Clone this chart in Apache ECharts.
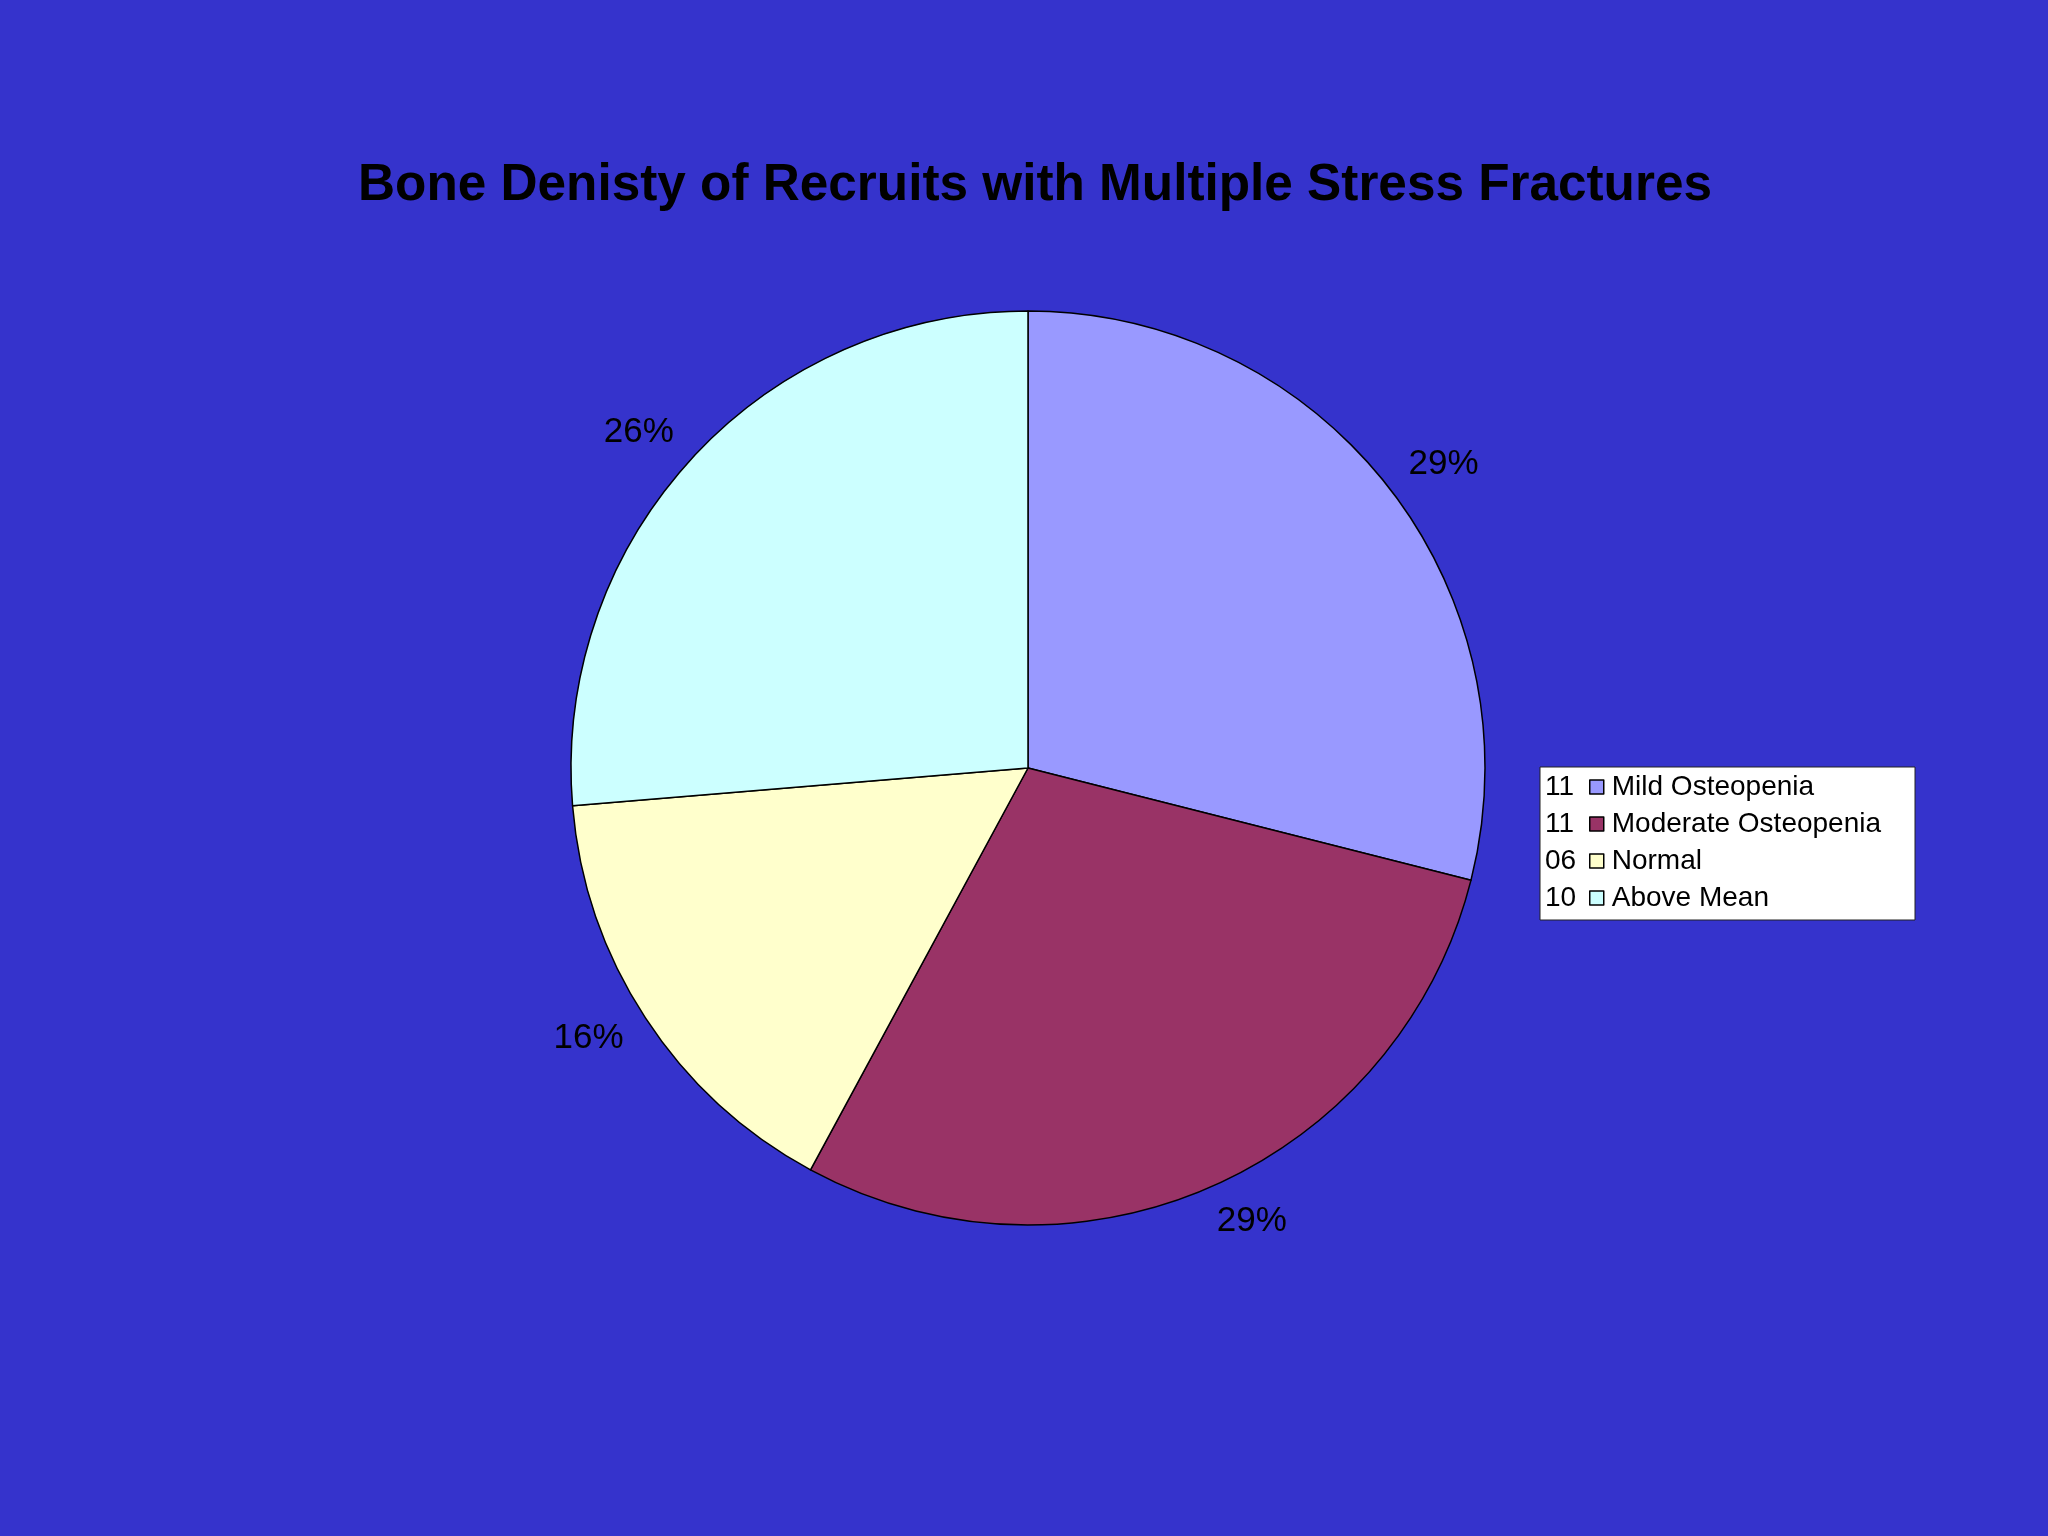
<!DOCTYPE html>
<html>
<head>
<meta charset="utf-8">
<title>Bone Denisty of Recruits with Multiple Stress Fractures</title>
<script src="https://cdn.jsdelivr.net/npm/echarts@6/dist/echarts.min.js"></script>
<style>
  html, body { margin: 0; padding: 0; background: #3533CC; }
  #chart { width: 2048px; height: 1536px; }
</style>
</head>
<body>
<div id="chart"></div>
<script>
// data
const categories = ['Mild Osteopenia', 'Moderate Osteopenia', 'Normal', 'Above Mean'];
const counts = [11, 11, 6, 10];
const sliceColors = ['#9999FF', '#993366', '#FFFFCC', '#CCFFFF'];
const chartTitle = 'Bone Denisty of Recruits with Multiple Stress Fractures';

const FONT = '"Liberation Sans", Arial, sans-serif';

// legend shows the raw count in front of each entry, as "06"
const countByName = {};
categories.forEach((c, i) => { countByName[c] = String(counts[i]).padStart(2, '0'); });

const chart = echarts.init(document.getElementById('chart'), null, { renderer: 'canvas' });

const legendCommon = {
    orient: 'vertical',
    top: 772,
    padding: 0,
    itemGap: 7,
    selectedMode: false,
    data: categories
};
const legendText = { color: '#000', fontFamily: FONT, fontSize: 28, lineHeight: 30 };

chart.setOption({
    backgroundColor: '#3533CC',
    animation: false,
    title: {
        text: chartTitle,
        left: 1030,
        textAlign: 'center',
        top: 155,
        textStyle: { color: '#000', fontFamily: FONT, fontWeight: 'bold', fontSize: 51.3 }
    },
    graphic: [{
        type: 'rect',
        shape: { x: 1540, y: 767, width: 375, height: 153 },
        style: { fill: '#fff', stroke: '#222', lineWidth: 1 },
        z: 0
    }],
    legend: [
        Object.assign({}, legendCommon, {
            left: 1589,
            itemWidth: 14,
            itemHeight: 14,
            icon: 'rect',
            itemStyle: { borderColor: '#000', borderWidth: 1.5 },
            textStyle: Object.assign({ padding: [0, 0, 0, 3] }, legendText)
        }),
        Object.assign({}, legendCommon, {
            left: 1539,
            itemWidth: 0,
            itemHeight: 0,
            textStyle: legendText,
            formatter: name => countByName[name]
        })
    ],
    series: [{
        type: 'pie',
        center: [1028, 768],
        radius: 457,
        startAngle: 90,
        clockwise: true,
        avoidLabelOverlap: false,
        data: categories.map((c, i) => ({ name: c, value: counts[i], itemStyle: { color: sliceColors[i] } })),
        itemStyle: { borderColor: '#000', borderWidth: 1.5 },
        label: {
            show: true,
            position: 'outside',
            formatter: p => Math.round(p.percent) + '%',
            color: '#000',
            fontFamily: FONT,
            fontSize: 35,
            distanceToLabelLine: -10
        },
        labelLine: { show: false, length: 38, length2: 0 },
        emphasis: { disabled: true }
    }]
});
</script>
</body>
</html>
